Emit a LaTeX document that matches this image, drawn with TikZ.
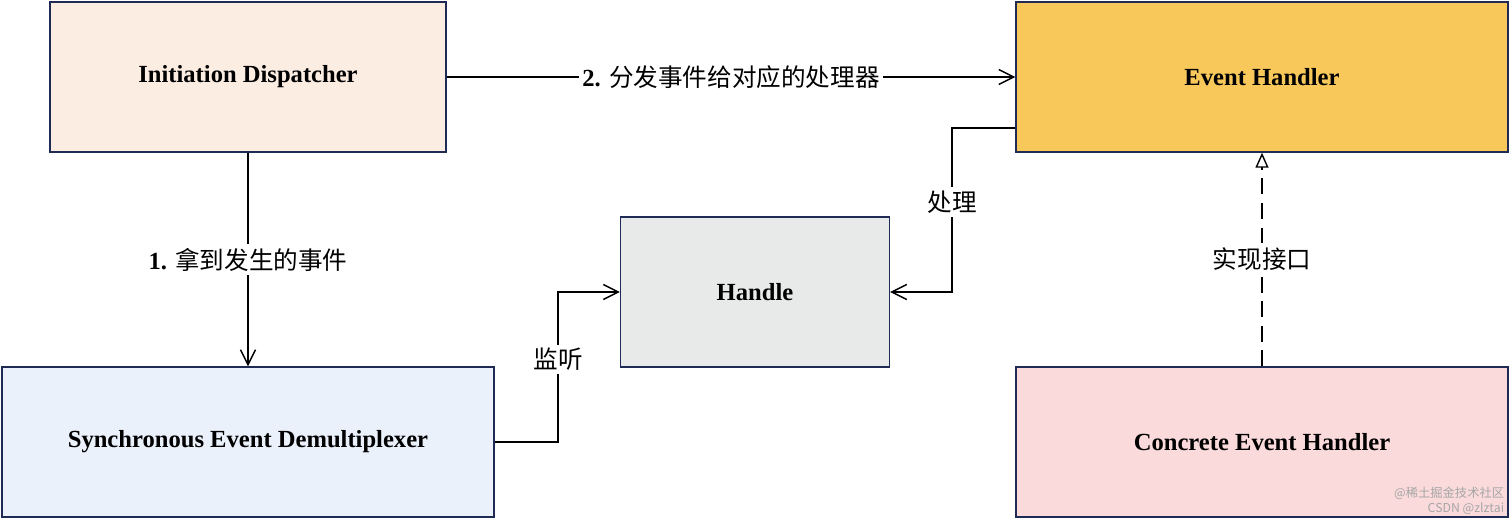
\documentclass[tikz,border=0pt]{standalone}
\usepackage{fontspec}
\setmainfont{Liberation Serif}
\newfontfamily\cjk{Noto Sans CJK SC}
\usetikzlibrary{arrows.meta}
\definecolor{dispfill}{HTML}{FCEDE3}
\definecolor{evfill}{HTML}{F9C85A}
\definecolor{hdlfill}{HTML}{E8EAEA}
\definecolor{syncfill}{HTML}{EAF1FB}
\definecolor{concfill}{HTML}{FADADB}
\definecolor{boxline}{HTML}{1F2A55}
\begin{document}
\begin{tikzpicture}[
      x=0.02cm, y=-0.02cm,
      block/.style={rectangle,
                    draw=boxline,
                    thick,
                    minimum height=3cm,
                    font=\fontsize{14}{16}\selectfont\bfseries},
      lbl/.style={fill=white,
                  inner sep=2pt,
                  font=\fontsize{14}{16}\selectfont},
      arr/.style={thick,-{Straight Barb[length=3mm,width=3mm]}}
    ]
    \useasboundingbox (0,0) rectangle (1512,520);

    \node[block, fill=dispfill, minimum width=7.92cm] (disp) at (248,77)
          {Initiation Dispatcher};
    \node[block, fill=evfill, minimum width=9.84cm] (evh) at (1262,77)
          {Event Handler};
    \node[block, fill=hdlfill, minimum width=5.38cm] (hdl) at (755,292)
          {Handle};
    \node[block, fill=syncfill, minimum width=9.84cm] (sync) at (248,442)
          {Synchronous Event Demultiplexer};
    \node[block, fill=concfill, minimum width=9.84cm] (conc) at (1262,442)
          {Concrete Event Handler};

    \coordinate (c1) at (558,442);
    \coordinate (c2) at (952,128);

    \draw [arr] (disp) to
                node[lbl] {\textbf{1.} \cjk 拿到发生的事件}
                (sync);
    \draw [arr] (disp) to
                node[lbl] {\textbf{2.} \cjk 分发事件给对应的处理器}
                (evh);
    \draw [arr] (sync.east |- c1) -- (c1)
                -- node[lbl, pos=0.55] {\cjk 监听} (c1 |- hdl) -- (hdl);
    \draw [arr] (evh.west |- c2) -- (c2)
                -- node[lbl, pos=0.45] {\cjk 处理} (c2 |- hdl) -- (hdl);
    \draw [thick, dashed, dash pattern=on 9pt off 5pt,
           -{Triangle[open,length=3mm,width=2.6mm]}] (conc) to
                node[lbl] {\cjk 实现接口}
                (evh);

    \node[anchor=south east, text=gray!70, align=right, inner sep=2pt,
          font=\fontsize{7}{8}\selectfont\cjk] (mark) at (1508,518)
          {@稀土掘金技术社区\\CSDN @zlztai};
\end{tikzpicture}
\end{document}
